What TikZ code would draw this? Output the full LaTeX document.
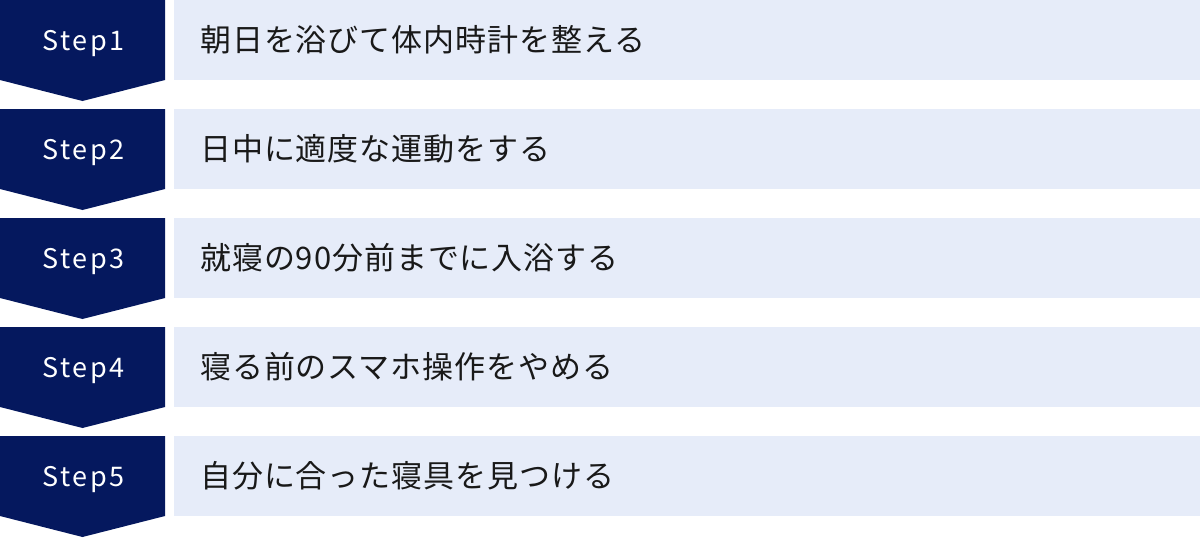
\documentclass[tikz,border=0pt]{standalone}
\usepackage{fontspec}
\setmainfont{Noto Sans CJK JP}
\newfontfamily\stepfont[LetterSpace=9]{Noto Sans CJK JP}
\newfontfamily\itemfont[LetterSpace=3]{Noto Sans CJK JP}
\definecolor{navy}{RGB}{5,24,94}
\definecolor{pale}{RGB}{230,236,249}
\tikzset{
  chevron/.style={fill=navy, draw=none},
  itembox/.style={fill=pale, draw=none},
  steplabel/.style={text=white, font=\stepfont\fontsize{27}{30}\selectfont, anchor=base, inner sep=0pt},
  itemlabel/.style={text=black!90, font=\itemfont\fontsize{31}{34}\selectfont, anchor=base west, inner sep=0pt},
}
\begin{document}
\begin{tikzpicture}[x=1pt,y=-1pt]
\useasboundingbox (0,0) rectangle (1200,538);
\foreach \i/\txt in {1/朝日を浴びて体内時計を整える,2/日中に適度な運動をする,3/就寝の90分前までに入浴する,4/寝る前のスマホ操作をやめる,5/自分に合った寝具を見つける}{
  \pgfmathsetmacro{\t}{109*(\i-1)}
  \path[chevron] (0,\t) -- (165,\t) -- (165,\t+80) -- (82.5,\t+101) -- (0,\t+80) -- cycle;
  \path[itembox] (174,\t) rectangle (1200,\t+80);
  \node[steplabel] (s\i) at (83.5,\t+50) {Step\i};
  \node[itemlabel] (t\i) at (200,\t+51) {\txt};
}
\end{tikzpicture}
\end{document}
